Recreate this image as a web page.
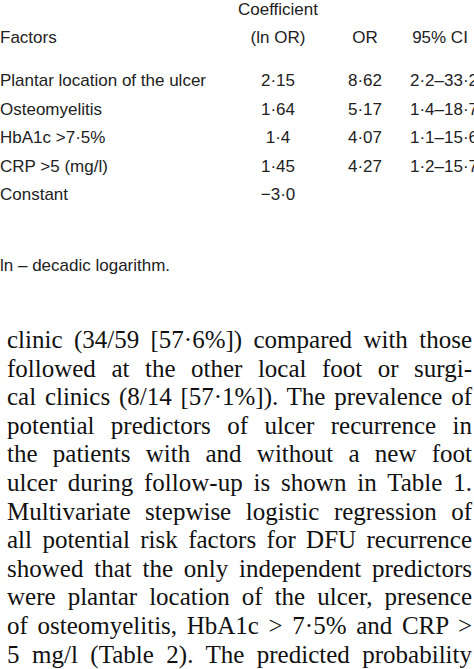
<!DOCTYPE html>
<html>
<head>
<meta charset="utf-8">
<script src="https://cdn.jsdelivr.net/npm/chart.js"></script>
<style>
  body { margin: 0; width: 474px; height: 669px; overflow: hidden; background: #fff; position: relative; }
  .t { position: absolute; font-family: "Liberation Sans", Arial, sans-serif; font-size: 17px; color: #222; white-space: nowrap; }
  .c { transform: translateX(-50%); }
  .body { position: absolute; left: 7px; width: 465px; font-family: "Liberation Serif", "Times New Roman", serif; font-size: 25px; color: #111; }
  .line { height: 28.6px; line-height: 28.6px; text-align: justify; text-align-last: justify; white-space: nowrap; }
</style>
</head>
<body>
<div id="page"></div>
<script>
  const factors = ['Plantar location of the ulcer', 'Osteomyelitis', 'HbA1c >7\u00b75%', 'CRP >5 (mg/l)', 'Constant'];
  const coefficients = ['2\u00b715', '1\u00b764', '1\u00b74', '1\u00b745', '\u22123\u00b70'];
  const oddsRatios = ['8\u00b762', '5\u00b717', '4\u00b707', '4\u00b727', ''];
  const intervals = ['2\u00b72\u201333\u00b72', '1\u00b74\u201318\u00b77', '1\u00b71\u201315\u00b76', '1\u00b72\u201315\u00b77', ''];
  const bodyLines = [
    'clinic (34/59 [57\u00b76%]) compared with those',
    'followed at the other local foot or surgi-',
    'cal clinics (8/14 [57\u00b71%]). The prevalence of',
    'potential predictors of ulcer recurrence in',
    'the patients with and without a new foot',
    'ulcer during follow-up is shown in Table 1.',
    'Multivariate stepwise logistic regression of',
    'all potential risk factors for DFU recurrence',
    'showed that the only independent predictors',
    'were plantar location of the ulcer, presence',
    'of osteomyelitis, HbA1c > 7\u00b75% and CRP >',
    '5 mg/l (Table 2). The predicted probability'
  ];

  const page = document.getElementById('page');
  function text(s, x, y, cls) {
    const d = document.createElement('div');
    d.className = 't ' + (cls || '');
    d.style.left = x + 'px'; d.style.top = y + 'px';
    d.textContent = s;
    page.appendChild(d);
  }
  text('Coefficient', 278, 0, 'c');
  text('Factors', 0, 28);
  text('(ln OR)', 278, 28, 'c');
  text('OR', 365, 28, 'c');
  text('95% CI', 440, 28, 'c');
  factors.forEach((f, i) => {
    const y = 71 + i * 28.5;
    text(f, 0, y);
    text(coefficients[i], 278, y, 'c');
    text(oddsRatios[i], 365, y, 'c');
    text(intervals[i], 410, y);
  });
  text('ln \u2013 decadic logarithm.', 0, 256);

  const body = document.createElement('div');
  body.className = 'body'; body.style.top = '326px';
  bodyLines.forEach(l => {
    const d = document.createElement('div');
    d.className = 'line';
    d.textContent = l;
    body.appendChild(d);
  });
  page.appendChild(body);
</script>
</body>
</html>
